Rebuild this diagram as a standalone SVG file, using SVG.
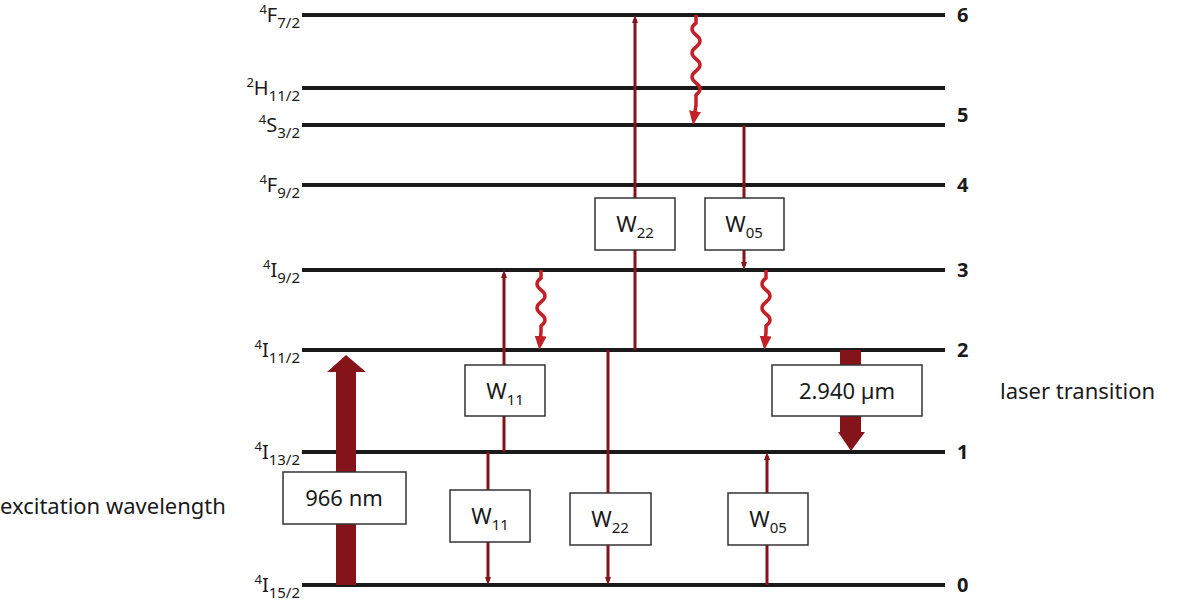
<svg xmlns="http://www.w3.org/2000/svg" width="1180" height="603" viewBox="0 0 1180 603">
<style>
text{font-family:"Noto Sans","Open Sans",sans-serif;fill:#1a1a1a}
.lvl{stroke:#1a1a1a;stroke-width:4}
.lb{font-size:20px;text-anchor:end}
.sp{font-size:13px}
.sb{font-size:15px}
.num{font-size:20px;font-weight:bold}
.box{fill:#fff;stroke:#333;stroke-width:1.5}
.bt{font-size:22px;text-anchor:middle}
.ln{stroke:#85141a;stroke-width:3;fill:none}
.wv{stroke:#c42127;stroke-width:3.5;fill:none}
</style>
<defs>
<marker id="ah" markerWidth="8" markerHeight="8" refX="4" refY="4" orient="auto" markerUnits="userSpaceOnUse"><path d="M0,1 L8,4 L0,7Z" fill="#85141a"/></marker>
<marker id="wh" markerWidth="14" markerHeight="14" refX="7" refY="7" orient="auto" markerUnits="userSpaceOnUse"><path d="M0,1 L14,7 L0,13Z" fill="#c42127"/></marker>
</defs>
<g id="levels">
<line class="lvl" x1="302" y1="15" x2="945" y2="15"/>
<line class="lvl" x1="302" y1="88" x2="945" y2="88"/>
<line class="lvl" x1="302" y1="125" x2="945" y2="125"/>
<line class="lvl" x1="302" y1="185" x2="945" y2="185"/>
<line class="lvl" x1="302" y1="270" x2="945" y2="270"/>
<line class="lvl" x1="302" y1="350" x2="945" y2="350"/>
<line class="lvl" x1="302" y1="452" x2="945" y2="452"/>
<line class="lvl" x1="302" y1="585" x2="945" y2="585"/>
</g>
<g id="labels">
<text class="lb" x="300" y="22"><tspan class="sp" dy="-8">4</tspan><tspan dy="8">F</tspan><tspan class="sb" dy="6">7/2</tspan></text>
<text class="lb" x="300" y="95"><tspan class="sp" dy="-8">2</tspan><tspan dy="8">H</tspan><tspan class="sb" dy="6">11/2</tspan></text>
<text class="lb" x="300" y="132"><tspan class="sp" dy="-8">4</tspan><tspan dy="8">S</tspan><tspan class="sb" dy="6">3/2</tspan></text>
<text class="lb" x="300" y="192"><tspan class="sp" dy="-8">4</tspan><tspan dy="8">F</tspan><tspan class="sb" dy="6">9/2</tspan></text>
<text class="lb" x="300" y="277"><tspan class="sp" dy="-8">4</tspan><tspan dy="8">I</tspan><tspan class="sb" dy="6">9/2</tspan></text>
<text class="lb" x="300" y="357"><tspan class="sp" dy="-8">4</tspan><tspan dy="8">I</tspan><tspan class="sb" dy="6">11/2</tspan></text>
<text class="lb" x="300" y="459"><tspan class="sp" dy="-8">4</tspan><tspan dy="8">I</tspan><tspan class="sb" dy="6">13/2</tspan></text>
<text class="lb" x="300" y="592"><tspan class="sp" dy="-8">4</tspan><tspan dy="8">I</tspan><tspan class="sb" dy="6">15/2</tspan></text>
<text class="num" x="957" y="22">6</text>
<text class="num" x="957" y="122">5</text>
<text class="num" x="957" y="192">4</text>
<text class="num" x="957" y="277">3</text>
<text class="num" x="957" y="357">2</text>
<text class="num" x="957" y="459">1</text>
<text class="num" x="957" y="592">0</text>
<text x="1000" y="399" style="font-size:22px">laser transition</text>
<text x="0" y="514" style="font-size:22px">excitation wavelength</text>
</g>
<g id="connectors">
<path d="M336,585 V372 H327 L346,355 L366,372 H356 V585Z" fill="#85141a"/>
<path d="M840,350 V432 H838 L851,451 L865,432 H861 V350Z" fill="#85141a"/>
<line class="ln" x1="504" y1="452" x2="504" y2="274" marker-end="url(#ah)"/>
<line class="ln" x1="488" y1="452" x2="488" y2="581" marker-end="url(#ah)"/>
<line class="ln" x1="608" y1="350" x2="608" y2="581" marker-end="url(#ah)"/>
<line class="ln" x1="635" y1="350" x2="635" y2="19" marker-end="url(#ah)"/>
<line class="ln" x1="744" y1="125" x2="744" y2="266" marker-end="url(#ah)"/>
<line class="ln" x1="767" y1="585" x2="767" y2="456" marker-end="url(#ah)"/>
<path class="wv" d="M696,15 v8 q-8,6 0,12 q8,6 0,12 q-8,6 0,12 q8,6 0,12 q-8,6 0,12 q8,6 0,12 v10 L694,118" marker-end="url(#wh)"/>
<path class="wv" d="M541,270 v8 q-8,6 0,12 q8,6 0,12 q-8,6 0,12 q8,6 0,12 v6 L540,343" marker-end="url(#wh)"/>
<path class="wv" d="M766,270 v8 q-8,6 0,12 q8,6 0,12 q-8,6 0,12 q8,6 0,12 v6 L765,343" marker-end="url(#wh)"/>
</g>
<g id="n966"><rect class="box" x="283" y="472" width="123" height="52"/><text class="bt" x="344" y="506">966 nm</text></g>
<g id="n2940"><rect class="box" x="772" y="365" width="150" height="51"/><text class="bt" x="847" y="399">2.940 µm</text></g>
<g id="w11a"><rect class="box" x="465" y="365" width="80" height="51"/><text class="bt" x="505" y="399">W<tspan class="sb" dy="6">11</tspan></text></g>
<g id="w11b"><rect class="box" x="450" y="490" width="80" height="52"/><text class="bt" x="490" y="524">W<tspan class="sb" dy="6">11</tspan></text></g>
<g id="w22a"><rect class="box" x="595" y="198" width="80" height="52"/><text class="bt" x="635" y="232">W<tspan class="sb" dy="6">22</tspan></text></g>
<g id="w22b"><rect class="box" x="570" y="493" width="81" height="52"/><text class="bt" x="610" y="527">W<tspan class="sb" dy="6">22</tspan></text></g>
<g id="w05a"><rect class="box" x="705" y="198" width="79" height="52"/><text class="bt" x="744" y="232">W<tspan class="sb" dy="6">05</tspan></text></g>
<g id="w05b"><rect class="box" x="728" y="493" width="80" height="52"/><text class="bt" x="768" y="527">W<tspan class="sb" dy="6">05</tspan></text></g>
</svg>
